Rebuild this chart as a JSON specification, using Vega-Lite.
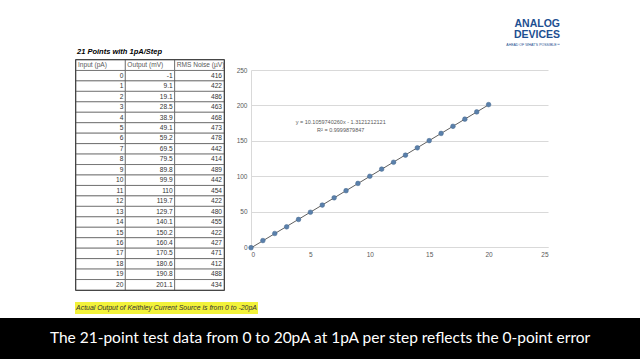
{
  "$schema": "https://vega.github.io/schema/vega-lite/v6.json",
  "padding": {"top": 19, "left": 0, "right": 0, "bottom": 0},
  "background": "#ffffff",
  "config": {"view": {"stroke": null}, "font": "Liberation Sans"},
  "title": {
    "text": ["ANALOG", "DEVICES"],
    "subtitle": "AHEAD OF WHAT'S POSSIBLE™",
    "anchor": "end",
    "frame": "bounds",
    "dx": -80,
    "fontSize": 10.5,
    "lineHeight": 11,
    "font": "Liberation Sans",
    "fontWeight": "bold",
    "color": "#1d4f91",
    "subtitleFont": "Liberation Sans",
    "subtitleFontSize": 3.5,
    "subtitleColor": "#1d4f91",
    "subtitlePadding": 2,
    "offset": 1
  },
  "datasets": {
    "steps": [
      {"input": 0, "output": -1, "noise": 416},
      {"input": 1, "output": 9.1, "noise": 422},
      {"input": 2, "output": 19.1, "noise": 486},
      {"input": 3, "output": 28.5, "noise": 463},
      {"input": 4, "output": 38.9, "noise": 468},
      {"input": 5, "output": 49.1, "noise": 473},
      {"input": 6, "output": 59.2, "noise": 478},
      {"input": 7, "output": 69.5, "noise": 442},
      {"input": 8, "output": 79.5, "noise": 414},
      {"input": 9, "output": 89.8, "noise": 489},
      {"input": 10, "output": 99.9, "noise": 442},
      {"input": 11, "output": 110, "noise": 454},
      {"input": 12, "output": 119.7, "noise": 422},
      {"input": 13, "output": 129.7, "noise": 480},
      {"input": 14, "output": 140.1, "noise": 455},
      {"input": 15, "output": 150.2, "noise": 422},
      {"input": 16, "output": 160.4, "noise": 427},
      {"input": 17, "output": 170.5, "noise": 471},
      {"input": 18, "output": 180.6, "noise": 412},
      {"input": 19, "output": 190.8, "noise": 488},
      {"input": 20, "output": 201.1, "noise": 434}
    ],
    "headers": [
      {"col": "input", "label": "Input (pA)"},
      {"col": "output", "label": "Output (mV)"},
      {"col": "noise", "label": "RMS Noise (µV)"}
    ],
    "empty": []
  },
  "columns": 1,
  "align": "none",
  "spacing": 4,
  "concat": [
    {
      "columns": 1,
      "align": "none",
      "spacing": 10,
      "concat": [
        {
          "align": "none",
          "spacing": 10,
          "concat": [
            {
              "width": 64,
              "height": 1,
              "data": {"name": "empty"},
              "mark": "rect"
            },
            {
              "width": 148,
              "height": 230,
              "title": {"text": "21 Points with 1pA/Step", "anchor": "start", "frame": "group", "dx": 1, "fontSize": 7.5, "fontStyle": "italic", "fontWeight": "bold", "font": "Liberation Sans", "offset": 4, "color": "#000000"},
              "view": {"stroke": "#000000", "strokeWidth": 1.5},
              "layer": [
                {
                  "data": {"name": "steps"},
                  "transform": [{"fold": ["input", "output", "noise"], "as": ["col", "val"]}],
                  "mark": {"type": "rect", "fill": "#ffffff", "stroke": "#555555", "strokeWidth": 0.7},
                  "encoding": {
                    "x": {"field": "col", "type": "nominal", "scale": {"domain": ["input", "output", "noise"], "paddingInner": 0, "paddingOuter": 0}, "axis": null},
                    "y": {"field": "input", "type": "ordinal", "scale": {"domain": ["header", 0, 1, 2, 3, 4, 5, 6, 7, 8, 9, 10, 11, 12, 13, 14, 15, 16, 17, 18, 19, 20], "paddingInner": 0, "paddingOuter": 0}, "axis": null}
                  }
                },
                {
                  "data": {"name": "headers"},
                  "mark": {"type": "rect", "fill": "#ffffff", "stroke": "#555555", "strokeWidth": 0.7},
                  "encoding": {
                    "x": {"field": "col", "type": "nominal"},
                    "y": {"datum": "header", "type": "ordinal"}
                  }
                },
                {
                  "data": {"name": "headers"},
                  "mark": {"type": "text", "align": "left", "baseline": "middle", "dx": 2, "fontSize": 6.6, "color": "#595959", "font": "Liberation Sans"},
                  "encoding": {
                    "x": {"field": "col", "type": "nominal", "bandPosition": 0},
                    "y": {"datum": "header", "type": "ordinal"},
                    "text": {"field": "label", "type": "nominal"}
                  }
                },
                {
                  "data": {"name": "steps"},
                  "transform": [{"fold": ["input", "output", "noise"], "as": ["col", "val"]}],
                  "mark": {"type": "text", "align": "right", "baseline": "middle", "dx": -2, "fontSize": 6.6, "color": "#333333", "font": "Liberation Sans"},
                  "encoding": {
                    "x": {"field": "col", "type": "nominal", "bandPosition": 1},
                    "y": {"field": "input", "type": "ordinal"},
                    "text": {"field": "val", "type": "nominal"}
                  }
                }
              ]
            },
            {
              "columns": 1,
              "align": "none",
              "spacing": 4,
              "concat": [
                {
                  "width": 297,
                  "height": 3,
                  "data": {"name": "empty"},
                  "mark": "rect"
                },
                {
                  "width": 297,
                  "height": 177,
                  "data": {"name": "steps"},
                  "encoding": {
                    "x": {"field": "input", "type": "quantitative", "scale": {"domain": [0, 25], "nice": false}, "axis": {"values": [0, 5, 10, 15, 20, 25], "grid": false, "ticks": false, "domainColor": "#d9d9d9", "domainWidth": 1.2, "labelColor": "#595959", "labelFontSize": 6.5, "labelPadding": 4, "title": null}},
                    "y": {"field": "output", "type": "quantitative", "scale": {"domain": [0, 250], "nice": false}, "axis": {"values": [0, 50, 100, 150, 200, 250], "grid": true, "gridColor": "#d9d9d9", "gridWidth": 1.2, "ticks": false, "domain": true, "domainColor": "#d9d9d9", "labelColor": "#595959", "labelFontSize": 6.5, "labelPadding": 4, "title": null, "minExtent": 15, "maxExtent": 15}}
                  },
                  "layer": [
                    {
                      "transform": [{"regression": "output", "on": "input"}],
                      "mark": {"type": "line", "color": "#5f5f5f", "strokeWidth": 1}
                    },
                    {
                      "mark": {"type": "point", "filled": true, "fill": "#5a80ab", "stroke": "#46698f", "strokeWidth": 0.5, "opacity": 1, "size": 22}
                    },
                    {
                      "data": {"values": [{"x": 7.55, "y": 176.5, "label": "y = 10.1059740260x - 1.3121212121\nR² = 0.9999879847"}]},
                      "mark": {"type": "text", "lineBreak": "\n", "align": "center", "baseline": "middle", "fontSize": 5.5, "lineHeight": 8, "color": "#595959"},
                      "encoding": {
                        "x": {"field": "x", "type": "quantitative"},
                        "y": {"field": "y", "type": "quantitative"},
                        "text": {"field": "label", "type": "nominal"}
                      }
                    }
                  ]
                }
              ]
            }
          ]
        },
        {
          "align": "none",
          "spacing": 10,
          "concat": [
            {
              "width": 65,
              "height": 1,
              "data": {"name": "empty"},
              "mark": "rect"
            },
            {
              "width": 183,
              "height": 12,
              "view": {"fill": "#f2f23a", "stroke": null},
              "data": {"values": [{"note": "Actual Output of Keithley Current Source is from 0 to -20pA"}]},
              "mark": {"type": "text", "fontSize": 6.9, "fontStyle": "italic", "color": "#333333", "font": "Liberation Sans", "baseline": "middle"},
              "encoding": {
                "text": {"field": "note", "type": "nominal"}
              }
            }
          ]
        }
      ]
    },
    {
      "width": 640,
      "height": 41,
      "view": {"fill": "#000000", "stroke": null},
      "data": {"values": [{"caption": "The 21-point test data from 0 to 20pA at 1pA per step reflects the 0-point error"}]},
      "mark": {"type": "text", "color": "#ffffff", "fontSize": 15.5, "font": "Lato", "baseline": "middle", "dy": -1},
      "encoding": {"text": {"field": "caption", "type": "nominal"}}
    }
  ]
}
